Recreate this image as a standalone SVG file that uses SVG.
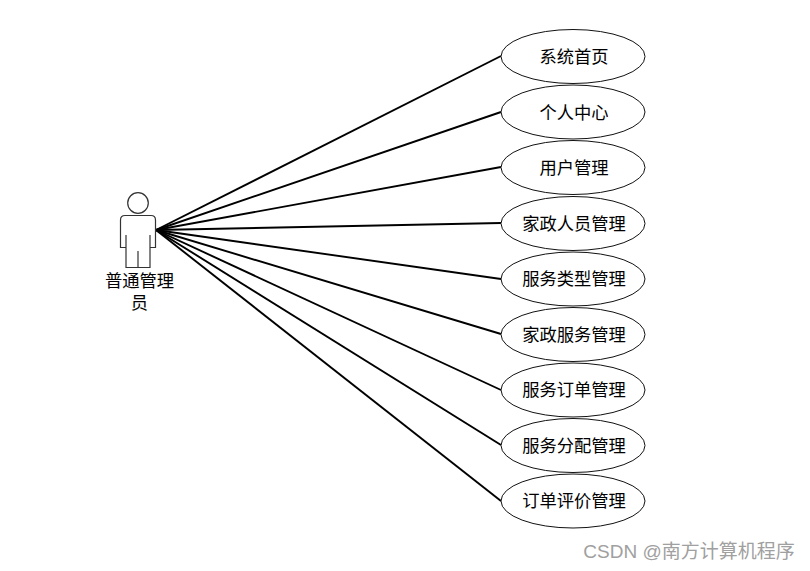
<svg xmlns="http://www.w3.org/2000/svg" width="810" height="571" viewBox="0 0 810 571">
<defs>
<style>
text{font-family:"Liberation Sans","Noto Sans CJK SC",sans-serif;fill:#000;text-anchor:middle}
.l{font-size:17.3px}
.e{fill:#fff;stroke:#111;stroke-width:1}
#connectors line{stroke:#000;stroke-width:1.9}
.a{fill:#fff;stroke:#333;stroke-width:1.2}
</style>
</defs>
<rect width="810" height="571" fill="#fff"/>
<g id="connectors">
<line x1="156" y1="230" x2="501" y2="56"/>
<line x1="156" y1="230" x2="501" y2="112"/>
<line x1="156" y1="230" x2="501" y2="167"/>
<line x1="156" y1="230" x2="501" y2="223"/>
<line x1="156" y1="230" x2="501" y2="279"/>
<line x1="156" y1="230" x2="501" y2="334"/>
<line x1="156" y1="230" x2="501" y2="390"/>
<line x1="156" y1="230" x2="501" y2="445"/>
<line x1="156" y1="230" x2="501" y2="501"/>
</g>
<g id="actor">
<circle class="a" cx="138" cy="203" r="10.300"/>
<path class="a" d="M125 215.500H151Q155.500 215.500 155.500 220V247.500H150V267.500H126V247.500H120.500V220Q120.500 215.500 125 215.500ZM126 247.500V235M150 247.500V235M138 267.500V251"/>
<text class="l" x="139.500" y="287">普通管理</text>
<text class="l" x="139.500" y="309">员</text>
</g>
<g id="n1"><ellipse class="e" cx="573" cy="56.500" rx="72" ry="27"/><text class="l" x="574" y="63">系统首页</text></g>
<g id="n2"><ellipse class="e" cx="573" cy="112" rx="72" ry="27"/><text class="l" x="574" y="119">个人中心</text></g>
<g id="n3"><ellipse class="e" cx="573" cy="167.500" rx="72" ry="27"/><text class="l" x="574" y="174">用户管理</text></g>
<g id="n4"><ellipse class="e" cx="573" cy="223.500" rx="72" ry="27"/><text class="l" x="574" y="230">家政人员管理</text></g>
<g id="n5"><ellipse class="e" cx="573" cy="279" rx="72" ry="27"/><text class="l" x="574" y="285">服务类型管理</text></g>
<g id="n6"><ellipse class="e" cx="573" cy="334.500" rx="72" ry="27"/><text class="l" x="574" y="341">家政服务管理</text></g>
<g id="n7"><ellipse class="e" cx="573" cy="390" rx="72" ry="27"/><text class="l" x="574" y="396">服务订单管理</text></g>
<g id="n8"><ellipse class="e" cx="573" cy="445.500" rx="72" ry="27"/><text class="l" x="574" y="452">服务分配管理</text></g>
<g id="n9"><ellipse class="e" cx="573" cy="501" rx="72" ry="27"/><text class="l" x="574" y="507">订单评价管理</text></g>
<text x="689" y="558" style="font-size:19px;fill:#a0a0a0">CSDN @南方计算机程序</text>
</svg>
